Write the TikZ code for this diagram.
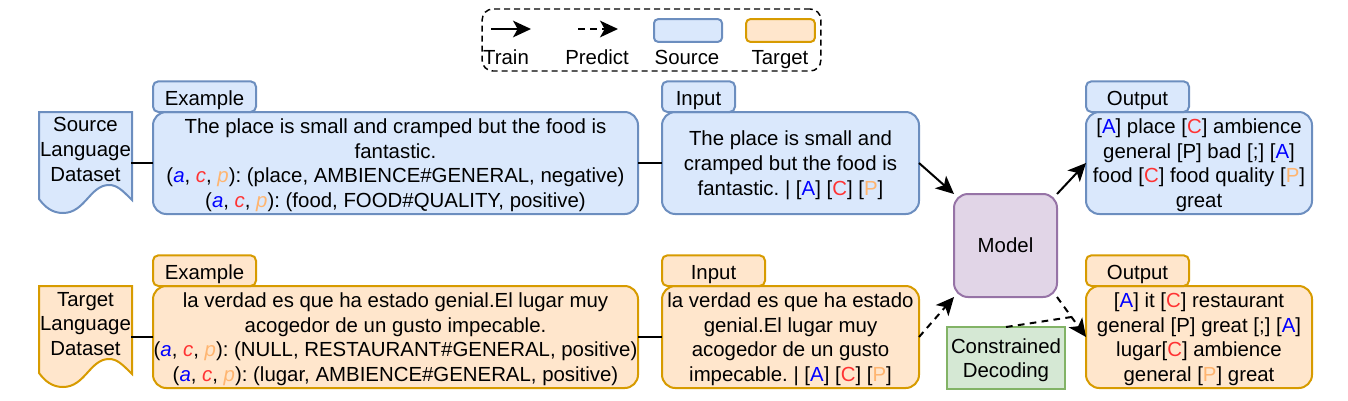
\documentclass[tikz,border=0pt]{standalone}
\usepackage{fontspec}
\setmainfont{Liberation Sans}
\usetikzlibrary{arrows.meta,calc,positioning}

\definecolor{srcfill}{HTML}{DAE8FC}
\definecolor{srcline}{HTML}{6C8EBF}
\definecolor{tgtfill}{HTML}{FFE6CC}
\definecolor{tgtline}{HTML}{D79B00}
\definecolor{modelfill}{HTML}{E1D5E7}
\definecolor{modelline}{HTML}{9673A6}
\definecolor{cdfill}{HTML}{D5E8D4}
\definecolor{cdline}{HTML}{82B366}
\definecolor{letterred}{HTML}{FF3333}
\definecolor{letterorange}{HTML}{FFB570}

\newcommand{\tagA}{[\textcolor{blue}{A}]}
\newcommand{\tagC}{[\textcolor{letterred}{C}]}
\newcommand{\tagP}{[\textcolor{letterorange}{P}]}
\newcommand{\acp}{(\textcolor{blue}{\textit{a}}, \textcolor{letterred}{\textit{c}}, \textcolor{letterorange}{\textit{p}})}
\newcommand{\wavedoc}[2]{\draw[#1] (39,#2) -- (132,#2) -- (132,#2+88) .. controls (122,#2+78) and (117,#2+73) .. (109,#2+73) .. controls (90,#2+73) and (85,#2+101) .. (63,#2+101) .. controls (52,#2+101) and (45,#2+95) .. (39,#2+87) -- cycle;}

\tikzset{
  every node/.style={font=\fontsize{15.3}{18.5}\selectfont\frenchspacing, align=center, inner sep=0pt, outer sep=0pt},
  src/.style={draw=srcline, fill=srcfill, line width=1.5pt},
  tgt/.style={draw=tgtline, fill=tgtfill, line width=1.5pt},
  mainbox/.style={text depth=0pt, rounded corners=10pt, minimum height=76.5pt},
  tagbox/.style={rounded corners=4pt, minimum height=23pt, text height=13pt, text depth=0pt},
  legendtext/.style={anchor=base},
  conn/.style={line width=1.5pt},
  pred/.style={conn, dashed, dash pattern=on 5pt off 4pt}
}

\begin{document}
\begin{tikzpicture}[x=0.75pt, y=-0.75pt, >={Stealth[length=13.5pt,width=12.5pt,inset=3.5pt]}]
\useasboundingbox (0,0) rectangle (1348,400);

% legend
\node[draw, dashed, dash pattern=on 4.5pt off 3pt, line width=1.1pt, rounded corners=8pt, minimum width=254pt, minimum height=46.5pt] (legend) at (651.5,40) {};
\coordinate (train_a) at (491,29);
\coordinate (train_b) at (531,29);
\coordinate (pred_a) at (578,29);
\coordinate (pred_b) at (618,29);
\draw[conn,->] (train_a) -- (train_b);
\draw[pred,->] (pred_a) -- (pred_b);
\node[src, rounded corners=3pt, minimum width=51pt, minimum height=17pt] (leg_src) at (688,30.5) {};
\node[tgt, rounded corners=3pt, minimum width=51.5pt, minimum height=17pt] (leg_tgt) at (780.5,30.5) {};
\node[legendtext] (leg_train) at (506,64) {Train};
\node[legendtext] (leg_pred) at (597,64) {Predict};
\node[legendtext] (leg_source) at (687,64) {Source};
\node[legendtext] (leg_target) at (780,64) {Target};

% datasets
\wavedoc{src}{112}
\wavedoc{tgt}{286}
\node (src_data) at (85.5,149.5) {Source\\Language\\Dataset};
\node (tgt_data) at (85.5,324) {Target\\Language\\Dataset};

% source row
\node[src,mainbox,minimum width=363.75pt] (src_ex) at (395.5,163) {The place is small and cramped but the food is\\fantastic.\\\acp: (place, AMBIENCE\#GENERAL, negative)\\\acp: (food, FOOD\#QUALITY, positive)};
\node[src,mainbox,minimum width=192.75pt,right=18pt of src_ex] (src_in) {The place is small and\\cramped but the food is\\fantastic. | \tagA{} \tagC{} \tagP};
\node[src,mainbox,minimum width=169.5pt,right=125.25pt of src_in] (src_out) {\tagA{} place \tagC{} ambience\\general [P] bad [;] \tagA\\food \tagC{} food quality \tagP\\great};
\node[src,tagbox,minimum width=77.25pt,above=0pt of src_ex.north west,anchor=south west] (src_ex_tag) {Example};
\node[src,tagbox,minimum width=54.75pt,above=0pt of src_in.north west,anchor=south west] (src_in_tag) {Input};
\node[src,tagbox,minimum width=77.25pt,above=0pt of src_out.north west,anchor=south west] (src_out_tag) {Output};

% target row
\node[tgt,mainbox,minimum width=363.75pt,below=54pt of src_ex] (tgt_ex) {la verdad es que ha estado genial.El lugar muy\\acogedor de un gusto impecable.\\\acp: (NULL, RESTAURANT\#GENERAL, positive)\\\acp: (lugar, AMBIENCE\#GENERAL, positive)};
\node[tgt,mainbox,minimum width=192.75pt,right=18pt of tgt_ex] (tgt_in) {la verdad es que ha estado\\genial.El lugar muy\\acogedor de un gusto\\impecable. | \tagA{} \tagC{} \tagP};
\node[tgt,mainbox,minimum width=169.5pt,right=125.25pt of tgt_in] (tgt_out) {\tagA{} it \tagC{} restaurant\\general [P] great [;] \tagA\\lugar\tagC{} ambience\\general \tagP{} great};
\node[tgt,tagbox,minimum width=77.25pt,above=0pt of tgt_ex.north west,anchor=south west] (tgt_ex_tag) {Example};
\node[tgt,tagbox,minimum width=77.25pt,above=0pt of tgt_in.north west,anchor=south west] (tgt_in_tag) {Input};
\node[tgt,tagbox,minimum width=77.25pt,above=0pt of tgt_out.north west,anchor=south west] (tgt_out_tag) {Output};

% model
\node[draw=modelline, fill=modelfill, line width=1.5pt, rounded corners=10.5pt, minimum width=77.25pt, minimum height=77.25pt] (model) at (1005.5,245.5) {Model};
\node[draw=cdline, fill=cdfill, line width=1.5pt, text depth=0pt, minimum width=88.5pt, minimum height=46.5pt] (cons_dec) at (1006,358) {Constrained\\Decoding};
\coordinate (cd_join) at ($(model.south east)!0.5!(tgt_out.west)$);

\draw[conn] (src_ex.west) -- (src_ex.west -| src_data.east);
\draw[conn] (tgt_ex.west) -- (tgt_ex.west -| tgt_data.east);
\draw[conn] (src_ex.east) -- (src_in.west);
\draw[conn] (tgt_ex.east) -- (tgt_in.west);
\draw[conn,->] (src_in.east) -- (model.north west);
\draw[conn,->] (model.north east) -- (src_out.west);
\draw[pred,->] (tgt_in.east) -- (model.south west);
\draw[pred,->] (model.south east) -- (tgt_out.west);
\draw[pred] (cons_dec.north) -- (cd_join);
\end{tikzpicture}
\end{document}
